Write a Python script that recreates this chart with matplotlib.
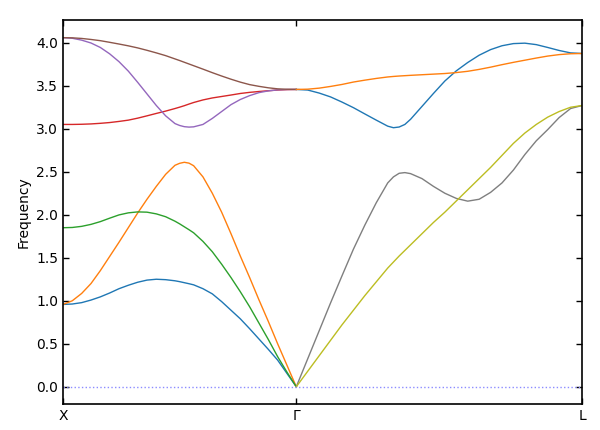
import numpy as np
import matplotlib
matplotlib.use("Agg")
import matplotlib.pyplot as plt

# high-symmetry path
labels = ["X", "Γ", "L"]
seg_lengths = [1.0, 1.2247]

# segment X -> Gamma, fraction of the segment
t1 = [0.0, 0.04, 0.08, 0.12, 0.16, 0.2, 0.24, 0.28, 0.32, 0.36, 0.4, 0.44, 0.48, 0.5,
      0.52, 0.54, 0.56, 0.6, 0.64, 0.68, 0.72, 0.76, 0.8, 0.84, 0.88, 0.92, 0.96, 1.0]

band1_x_g = [0.957, 0.962, 0.978, 1.008, 1.045, 1.09, 1.14, 1.18, 1.215, 1.24, 1.25, 1.245, 1.232, 1.222,
             1.21, 1.198, 1.185, 1.14, 1.08, 0.99, 0.89, 0.79, 0.675, 0.555, 0.435, 0.31, 0.155, 0.0]
band2_x_g = [0.957, 1.0, 1.085, 1.2, 1.35, 1.515, 1.68, 1.85, 2.02, 2.18, 2.33, 2.47, 2.575, 2.598,
             2.61, 2.6, 2.57, 2.44, 2.25, 2.03, 1.78, 1.52, 1.27, 1.01, 0.76, 0.5, 0.25, 0.0]
band3_x_g = [1.849, 1.852, 1.865, 1.888, 1.92, 1.96, 1.998, 2.022, 2.033, 2.03, 2.01, 1.977, 1.925, 1.894,
             1.86, 1.826, 1.79, 1.69, 1.57, 1.425, 1.27, 1.105, 0.93, 0.74, 0.55, 0.35, 0.17, 0.0]
band4_x_g = [3.05, 3.05, 3.052, 3.056, 3.063, 3.072, 3.085, 3.1, 3.123, 3.15, 3.178, 3.205, 3.235, 3.251,
             3.268, 3.287, 3.305, 3.335, 3.358, 3.375, 3.392, 3.41, 3.423, 3.433, 3.442, 3.45, 3.455, 3.457]
band5_x_g = [4.059, 4.052, 4.03, 3.997, 3.945, 3.871, 3.78, 3.67, 3.54, 3.405, 3.27, 3.15, 3.06, 3.038,
             3.024, 3.019, 3.022, 3.05, 3.12, 3.2, 3.28, 3.34, 3.385, 3.42, 3.44, 3.452, 3.456, 3.457]
band6_x_g = [4.059, 4.057, 4.05, 4.038, 4.024, 4.005, 3.985, 3.964, 3.94, 3.912, 3.882, 3.85, 3.812, 3.793,
             3.773, 3.753, 3.733, 3.693, 3.652, 3.613, 3.576, 3.542, 3.513, 3.493, 3.476, 3.464, 3.459, 3.457]

# segment Gamma -> L, fraction of the segment
t2 = [0.0, 0.04, 0.08, 0.12, 0.16, 0.2, 0.24, 0.28, 0.32, 0.34, 0.36, 0.38, 0.4, 0.44, 0.48,
      0.52, 0.56, 0.6, 0.64, 0.68, 0.72, 0.76, 0.8, 0.84, 0.88, 0.92, 0.96, 1.0]

band_ta_g_l = [0.0, 0.325, 0.65, 0.975, 1.29, 1.6, 1.88, 2.14, 2.37, 2.44, 2.482, 2.49, 2.478, 2.42, 2.33,
               2.25, 2.19, 2.158, 2.18, 2.26, 2.37, 2.52, 2.7, 2.86, 2.99, 3.13, 3.235, 3.27]
band_la_g_l = [0.0, 0.18, 0.36, 0.54, 0.72, 0.89, 1.06, 1.22, 1.38, 1.45, 1.52, 1.585, 1.65, 1.78, 1.91,
               2.03, 2.16, 2.29, 2.42, 2.55, 2.69, 2.83, 2.95, 3.05, 3.135, 3.2, 3.25, 3.27]
band_to_g_l = [3.457, 3.45, 3.415, 3.37, 3.31, 3.245, 3.172, 3.1, 3.03, 3.012, 3.02, 3.05, 3.11, 3.26, 3.41,
               3.555, 3.673, 3.77, 3.855, 3.92, 3.965, 3.99, 3.995, 3.978, 3.945, 3.91, 3.882, 3.875]
band_lo_g_l = [3.457, 3.46, 3.472, 3.492, 3.515, 3.543, 3.565, 3.585, 3.602, 3.608, 3.613, 3.617, 3.621, 3.628, 3.635,
               3.642, 3.653, 3.668, 3.69, 3.716, 3.745, 3.772, 3.797, 3.822, 3.845, 3.862, 3.872, 3.875]


def plot_band_structure():
    """Draw the phonon band structure along X - Gamma - L"""
    fig = plt.figure(figsize=(6.0, 4.3), dpi=100)
    ax = fig.add_axes([0.105, 0.06, 0.865, 0.893])

    x1 = np.array(t1) * seg_lengths[0]
    x2 = seg_lengths[0] + np.array(t2) * seg_lengths[1]

    seg1 = [band1_x_g, band2_x_g, band3_x_g, band4_x_g, band5_x_g, band6_x_g]
    for i, band in enumerate(seg1):
        ax.plot(x1, band, color=f"C{i}", linewidth=1.0)

    seg2 = [(band_ta_g_l, "C7"), (band_la_g_l, "C8"),
            (band_to_g_l, "C0"), (band_lo_g_l, "C1")]
    for band, color in seg2:
        ax.plot(x2, band, color=color, linewidth=1.0)

    ax.axhline(y=0, linestyle=":", linewidth=1.0, color="#8c8cff")

    ticks = [0.0, seg_lengths[0], seg_lengths[0] + seg_lengths[1]]
    ax.set_xlim(ticks[0], ticks[-1])
    ax.set_xticks(ticks)
    ax.set_xticklabels(labels)
    ax.set_yticks(np.arange(0, 4.01, 0.5))
    ax.set_ylabel("Frequency")
    ax.tick_params(direction="in", top=True, right=True, width=1.0, length=4)
    for spine in ax.spines.values():
        spine.set_linewidth(1.2)

    fig.savefig("out.png")


plot_band_structure()
